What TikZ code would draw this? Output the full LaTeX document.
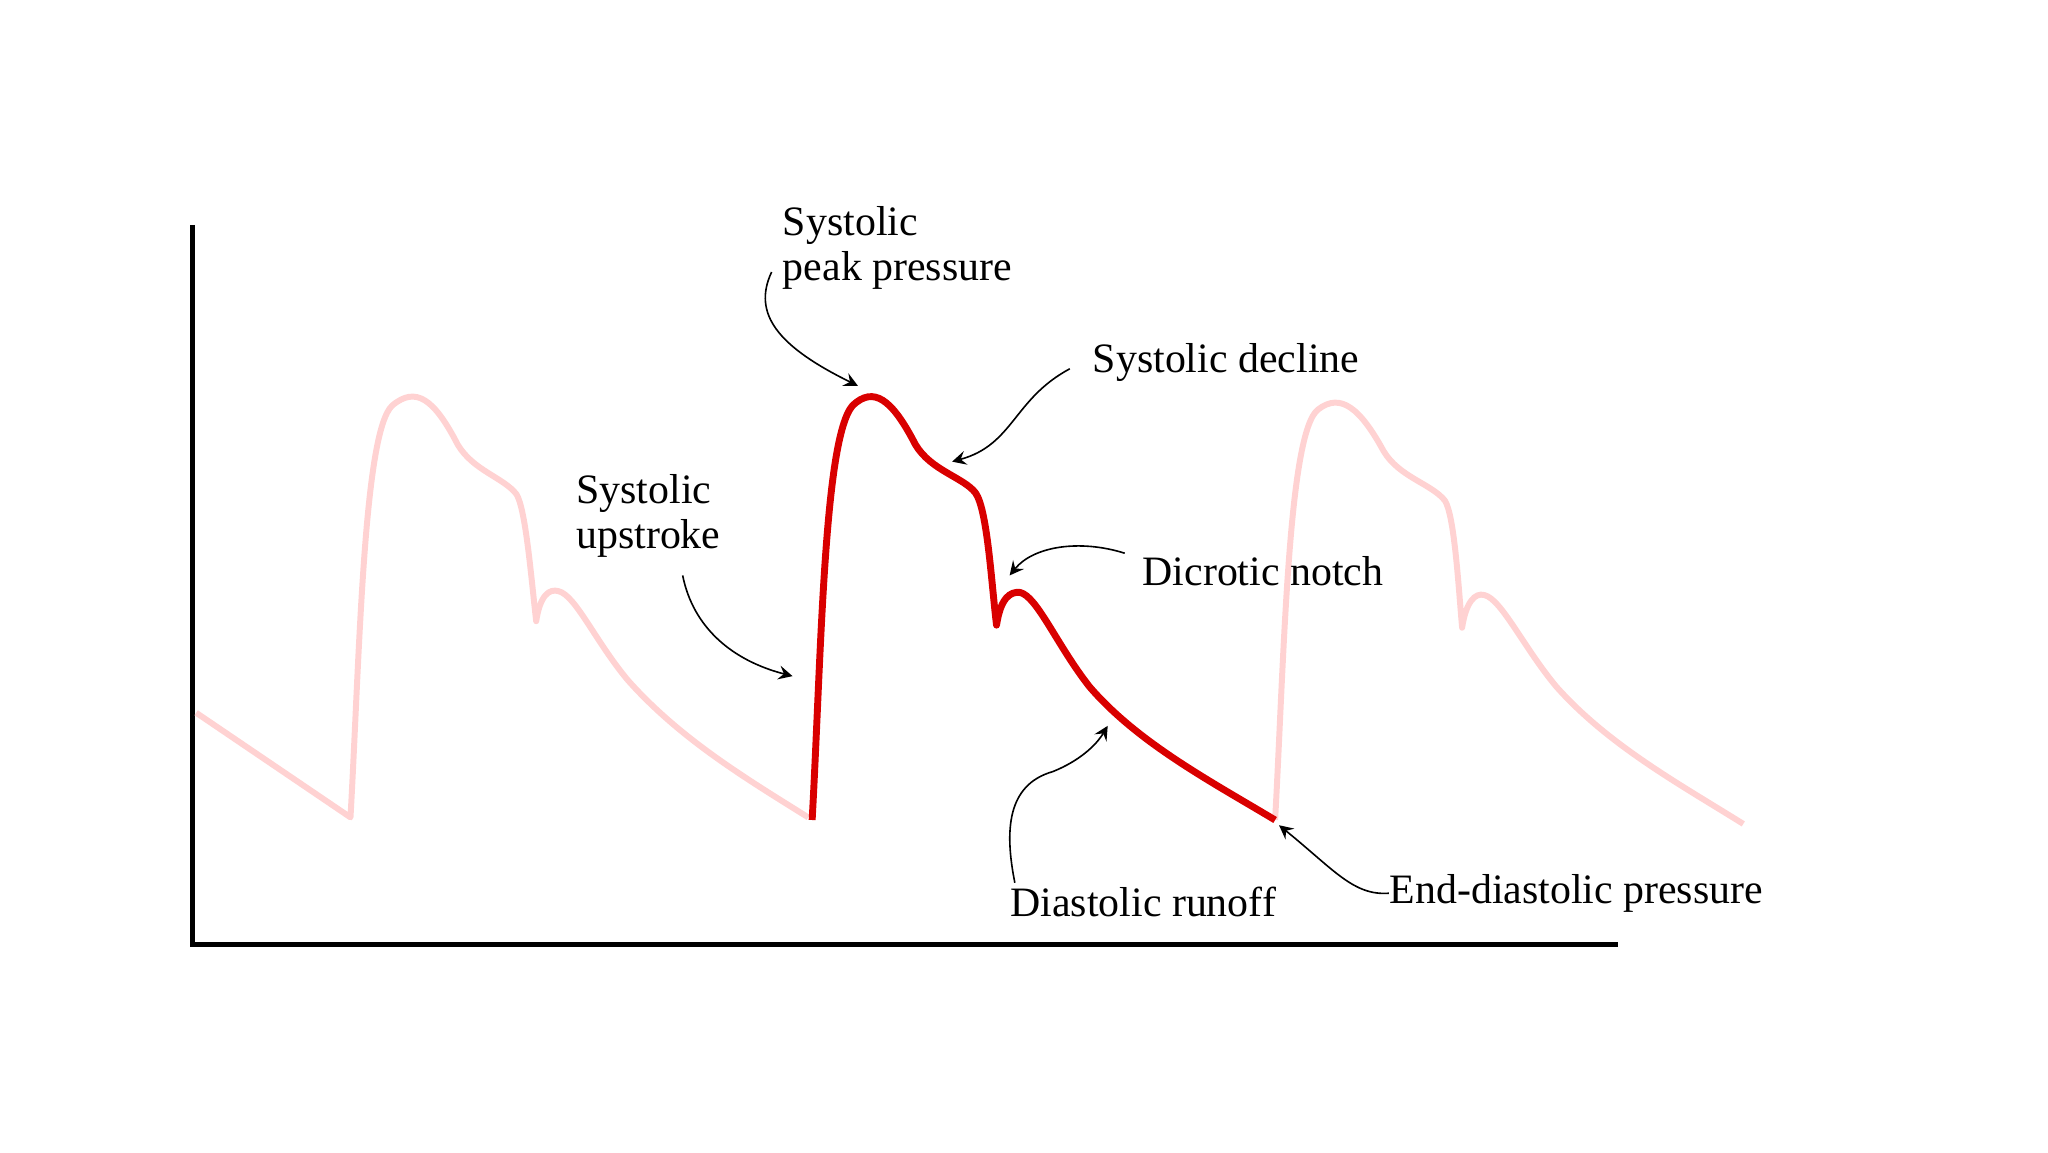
\documentclass[tikz,border=0pt]{standalone}
\usepackage{fontspec}
\setmainfont{Liberation Serif}
\begin{document}
\begin{tikzpicture}[x=0.01cm,y=-0.01cm,
  lbl/.style={font=\fontsize{9.1}{9.8}\selectfont,inner sep=0pt,align=left},
  ann/.style={-stealth,line width=0.35pt},
  wave/.style={line width=1.3pt,line join=round},
  faint/.style={wave,color=pink!70!white},
  strong/.style={wave,color=red!85!black,line width=1.5pt}]
\useasboundingbox (0,0) rectangle (1566,881);
\draw[line width=1pt] (147,172) -- (147,722) -- (1237,722);
% faint cycles
\draw[faint] (150,545) -- (268,625) .. controls (275,500) and (278,330) .. (300,310)
 .. controls (318,295) and (332,305) .. (350,340) .. controls (362,360) and (385,365) .. (395,378)
 .. controls (402,390) and (406,440) .. (410,475) .. controls (413,455) and (420,450) .. (427,452)
 .. controls (440,455) and (455,490) .. (480,520) .. controls (520,565) and (570,595) .. (618,625);
\draw[faint] (975,627) .. controls (982,500) and (985,330) .. (1008,313)
 .. controls (1025,300) and (1040,312) .. (1058,345) .. controls (1070,365) and (1095,370) .. (1105,383)
 .. controls (1112,395) and (1115,445) .. (1118,480) .. controls (1121,460) and (1128,453) .. (1135,455)
 .. controls (1148,458) and (1165,495) .. (1190,525) .. controls (1230,570) and (1285,600) .. (1333,630);
% strong cycle
\draw[strong] (621,627) .. controls (628,500) and (630,335) .. (652,310)
 .. controls (668,295) and (682,305) .. (700,340) .. controls (712,360) and (737,365) .. (746,377)
 .. controls (755,390) and (758,445) .. (762,478) .. controls (765,458) and (772,452) .. (780,453)
 .. controls (793,456) and (808,493) .. (833,525) .. controls (870,568) and (925,597) .. (975,627);
% labels
\node[lbl,anchor=north west] (peak) at (598,157) {Systolic\\peak pressure};
\node[lbl,anchor=west] (decl) at (835,277) {Systolic decline};
\node[lbl,anchor=north west] (up) at (440,362) {Systolic\\upstroke};
\node[lbl,anchor=west] (notch) at (873,437) {Dicrotic notch};
\node[lbl,anchor=west] (run) at (772,690) {Diastolic runoff};
\node[lbl,anchor=west] (edp) at (1062,683) {End-diastolic pressure};
% annotation arrows
\coordinate (pa) at (656,295); \coordinate (da) at (728,353); \coordinate (ua) at (606,517);
\coordinate (na) at (772,440); \coordinate (ra) at (847,555); \coordinate (ea) at (978,631);
\draw[ann] (590,208) .. controls (575,240) and (595,265) .. (pa);
\draw[ann] (818,282) .. controls (775,305) and (775,340) .. (da);
\draw[ann] (522,440) .. controls (530,480) and (560,505) .. (ua);
\draw[ann] (860,423) .. controls (825,412) and (790,418) .. (na);
\draw[ann] (776,675) .. controls (768,635) and (770,600) .. (805,590) .. controls (825,582) and (838,570) .. (ra);
\draw[ann] (edp.west) .. controls (1035,685) and (1020,665) .. (ea);
\end{tikzpicture}
\end{document}
